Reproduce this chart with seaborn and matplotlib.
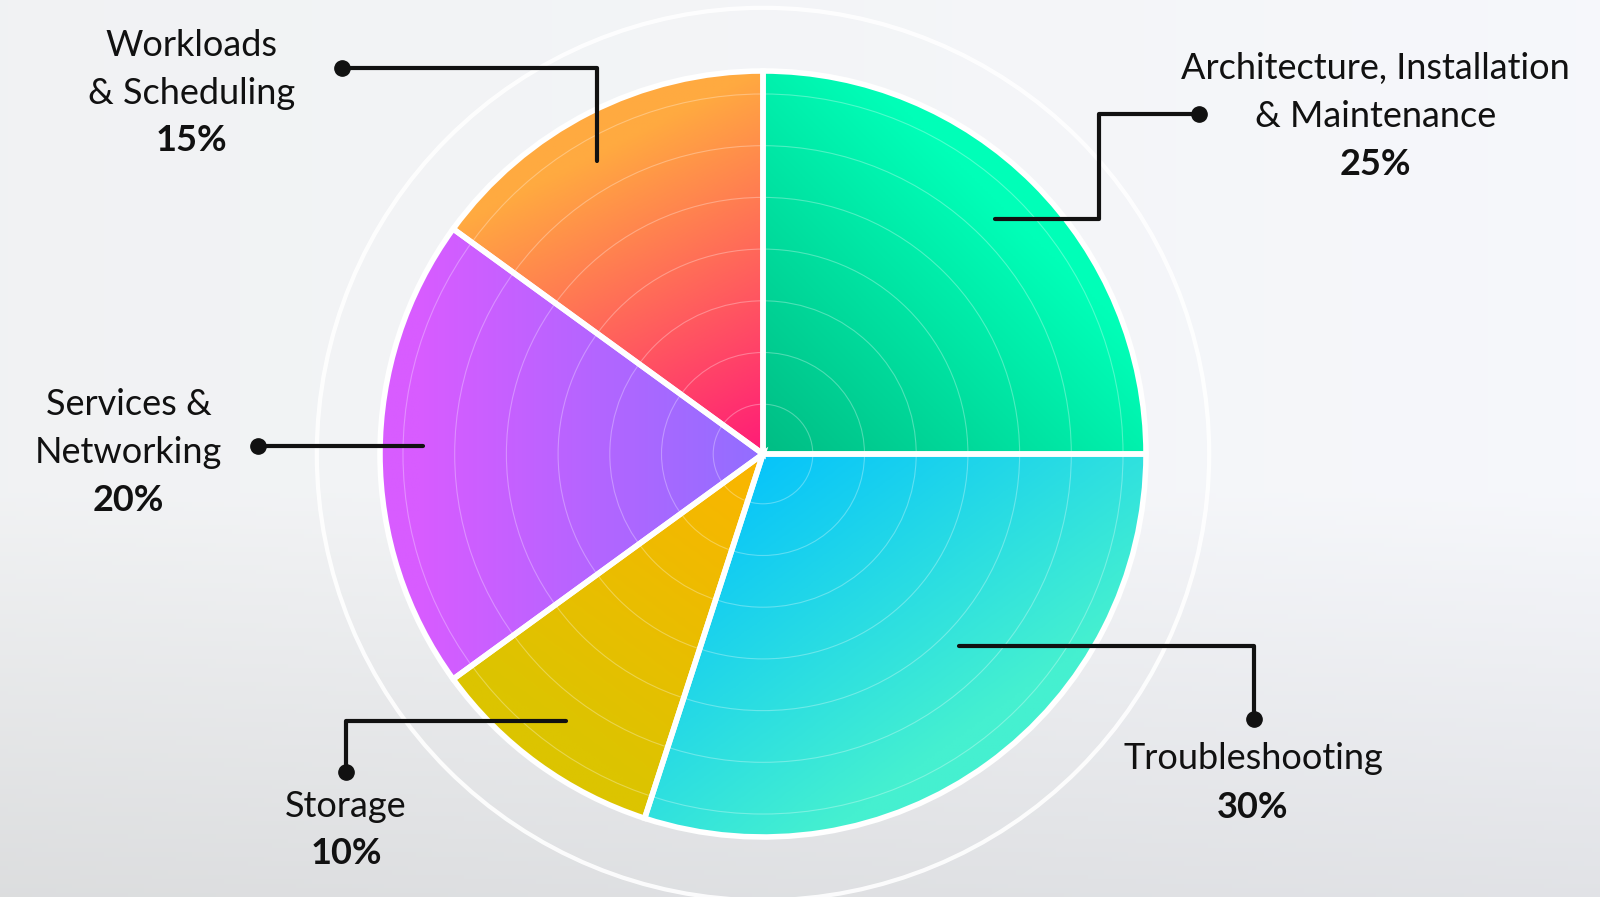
import numpy as np
import matplotlib.pyplot as plt
import matplotlib.colors as mcolors
import seaborn as sns

sns.set_theme(style="white")
plt.rcParams['font.family'] = ['Lato', 'DejaVu Sans']

# data, clockwise from 12 o'clock
topics = ['Architecture, Installation\n& Maintenance', 'Troubleshooting', 'Storage',
          'Services &\nNetworking', 'Workloads\n& Scheduling']
shares = [25, 30, 10, 20, 15]
# (inner colour, outer colour) for each slice gradient
grad_colors = [('#00b57e', '#00ffb8'), ('#00bfff', '#45f0d0'), ('#ffb300', '#dcc400'),
               ('#8a70ff', '#d85cff'), ('#ff0a7e', '#ffaa40')]

W, H = 1600, 897
fig = plt.figure(figsize=(16, 8.97), dpi=100)
ax = fig.add_axes([0, 0, 1, 1])
cx, cy, R = 763, 454, 383   # pixel centre / radius
ext = [-cx / R, (W - cx) / R, -(H - cy) / R, cy / R]


def px(x, y):
    s = 1600 / 1568
    return ((x * s) - cx) / R, (cy - y * s) / R


# background
gy, gx = np.mgrid[0:1:200j, 0:1:200j]
bg = 0.955 - 0.09 * np.clip(gy - 0.55, 0, 1) * 2 + 0.02 * gx
bgc = np.dstack([bg - 0.01, bg - 0.005, bg + 0.01 * gx])
ax.imshow(np.clip(bgc, 0, 1), extent=ext, origin='upper', zorder=0, aspect='auto')

ax.add_patch(plt.Circle((0, 0), 1.165, fill=False, ec='white', lw=3, alpha=0.9, zorder=1))

wedges, _ = ax.pie(shares, startangle=90, counterclock=False, radius=1,
                   wedgeprops=dict(ec='white', lw=4), normalize=True)

X, Y = np.meshgrid(np.linspace(ext[0], ext[1], 600), np.linspace(ext[3], ext[2], 340))
for w, (c0, c1) in zip(wedges, grad_colors):
    mid = np.deg2rad((w.theta1 + w.theta2) / 2)
    d = X * np.cos(mid) + Y * np.sin(mid)
    t = np.clip((d + 0.1) / 1.0, 0, 1)
    cmap = mcolors.LinearSegmentedColormap.from_list('g', [c0, c1])
    im = ax.imshow(cmap(t), extent=ext, origin='upper', zorder=2, aspect='auto')
    im.set_clip_path(w)
    w.set_facecolor('none')
    w.set_zorder(4)
    for r in np.arange(0.13, 1.0, 0.135):
        ring = plt.Circle((0, 0), r, fill=False, ec='white', lw=0.8, alpha=0.3, zorder=3)
        ax.add_patch(ring)
        ring.set_clip_path(w)

# labels and leader lines (pixel coords of reference)
labels = [
    (topics[0], 1348, 91, 161, [(1175, 112), (1077, 112), (1077, 215), (975, 215)]),
    (topics[1], 1228, 743, 791, [(1229, 705), (1229, 633), (940, 633)]),
    (topics[2], 339, 790, 836, [(339, 757), (339, 707), (555, 707)]),
    (topics[3], 126, 420, 490, [(253, 437), (415, 437)]),
    (topics[4], 188, 68, 138, [(335, 67), (585, 67), (585, 158)]),
]
for (name, tx, ty, py, pts), val in zip(labels, shares):
    x, y = px(tx, ty)
    ax.text(x, y, name, ha='center', va='center', fontsize=26, color='#111111',
            linespacing=1.55, zorder=6)
    x, y = px(tx, py)
    ax.text(x, y, f'{val}%', ha='center', va='center', fontsize=26,
            fontweight='bold', color='#111111', zorder=6)
    xy = np.array([px(*p) for p in pts])
    ax.plot(xy[:, 0], xy[:, 1], color='#111111', lw=3, zorder=6)
    ax.plot(xy[0, 0], xy[0, 1], 'o', color='#111111', ms=11, zorder=6)

ax.set_xlim(ext[0], ext[1])
ax.set_ylim(ext[2], ext[3])
ax.set_aspect('equal')
ax.axis('off')

fig.savefig('out.png', dpi=100)
